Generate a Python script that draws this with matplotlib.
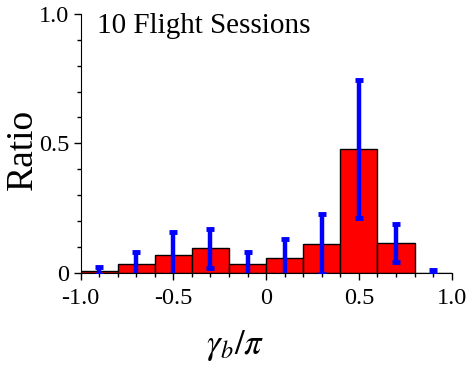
import numpy as np
import matplotlib as mpl
mpl.use('Agg')
import matplotlib.pyplot as plt
from matplotlib.ticker import MultipleLocator

# bin edges of gamma_b / pi and measured ratio per bin
bin_left = [-1.0, -0.8, -0.6, -0.4, -0.2, 0.0, 0.2, 0.4, 0.6, 0.8]
ratio = [0.006, 0.032, 0.067, 0.094, 0.032, 0.058, 0.111, 0.477, 0.115, 0.0]
ratio_err = [0.015, 0.049, 0.089, 0.076, 0.049, 0.070, 0.115, 0.267, 0.073, 0.010]
bin_width = 0.2

plt.rcParams['font.family'] = 'Liberation Serif'
plt.rcParams['mathtext.fontset'] = 'stix'

fig = plt.figure(figsize=(4.74, 3.77), dpi=100)
ax = fig.add_axes([0.170, 0.277, 0.783, 0.686])

centers = np.array(bin_left) + bin_width / 2
ax.bar(bin_left, ratio, width=bin_width, align='edge', color='#ff0000',
       edgecolor='k', linewidth=1.0, zorder=2)
ax.errorbar(centers, ratio, yerr=ratio_err, fmt='none', ecolor='#0000ff',
            elinewidth=3.2, capsize=3.2, capthick=3.5, zorder=3)

ax.set_xlim(-1.0, 1.0)
ax.set_ylim(0, 1.0)
ax.set_xticks([-1.0, -0.5, 0, 0.5, 1.0])
ax.set_xticklabels(['-1.0', '-0.5', '0', '0.5', '1.0'])
ax.set_yticks([0, 0.5, 1.0])
ax.set_yticklabels(['0', '0.5', '1.0'])
ax.xaxis.set_minor_locator(MultipleLocator(0.1))
ax.yaxis.set_minor_locator(MultipleLocator(0.1))
ax.tick_params(axis='both', which='major', direction='out', length=5,
               width=1, labelsize=17.5)
ax.tick_params(axis='x', which='major', pad=6)
ax.tick_params(axis='y', which='major', pad=3)
ax.tick_params(axis='both', which='minor', direction='out', length=3, width=1)

ax.spines['top'].set_visible(False)
ax.spines['right'].set_visible(False)

ax.set_ylabel('Ratio', fontsize=27)
ax.yaxis.set_label_coords(-0.11, 0.475)
ax.set_xlabel(r'$\gamma_b/\pi$', fontsize=25)
ax.xaxis.set_label_coords(0.416, -0.215)
ax.text(0.045, 1.005, '10 Flight Sessions', transform=ax.transAxes,
        fontsize=21, ha='left', va='top')

plt.savefig('out.png', dpi=100)
